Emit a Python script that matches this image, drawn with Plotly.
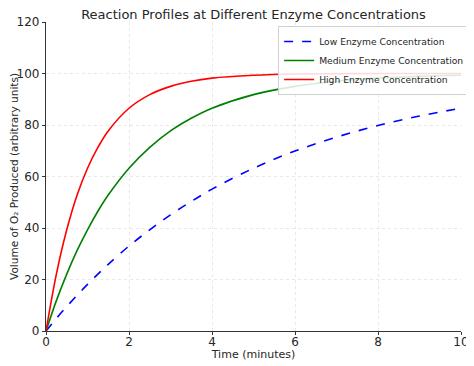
import plotly.graph_objects as go

time_min = [0, 0.25, 0.5, 0.75, 1, 1.25, 1.5, 2, 2.5, 3, 3.5, 4, 5, 6, 7, 8, 9, 10]
low = [0, 4.9, 9.5, 13.9, 18.1, 22.1, 25.9, 33.0, 39.3, 45.1, 50.3, 55.1, 63.2, 69.9, 75.3, 79.8, 83.5, 86.5]
medium = [0, 11.8, 22.1, 31.3, 39.3, 46.5, 52.8, 63.2, 71.3, 77.7, 82.6, 86.5, 91.8, 95.0, 97.0, 98.2, 98.9, 99.3]
high = [0, 22.1, 39.3, 52.8, 63.2, 71.3, 77.7, 86.5, 91.8, 95.0, 97.0, 98.2, 99.3, 99.8, 99.9, 100, 100, 100]

x_ticks = [0, 2, 4, 6, 8, 10]
y_ticks = [0, 20, 40, 60, 80, 100, 120]

fig = go.Figure()
fig.add_trace(go.Scatter(x=time_min, y=low, mode="lines", name="Low Enzyme Concentration",
                         line=dict(color="#0000ff", width=1.6, dash="dash", shape="spline")))
fig.add_trace(go.Scatter(x=time_min, y=medium, mode="lines", name="Medium Enzyme Concentration",
                         line=dict(color="#008000", width=1.6, shape="spline")))
fig.add_trace(go.Scatter(x=time_min, y=high, mode="lines", name="High Enzyme Concentration",
                         line=dict(color="#ff0000", width=1.6, shape="spline")))

font_family = "DejaVu Sans"
fig.update_layout(
    width=466, height=358,
    margin=dict(l=38, r=13, t=14, b=35, autoexpand=False),
    paper_bgcolor="white", plot_bgcolor="white",
    font=dict(family=font_family, color="#262626", size=12),
    title=dict(text="Reaction Profiles at Different Enzyme Concentrations",
               x=0.5, xref="paper", xanchor="center", y=0.981, yanchor="middle",
               font=dict(size=13, color="#262626")),
    legend=dict(x=1.022, y=0.987, xanchor="right", yanchor="top",
                bgcolor="rgba(255,255,255,0.85)", bordercolor="#d0d0d0", borderwidth=1,
                font=dict(size=9.2), tracegroupgap=0, itemwidth=30),
    showlegend=True,
)
fig.update_xaxes(range=[0, 10], tickvals=x_ticks, showgrid=True, automargin=False,
                 gridcolor="#e8e8e8", griddash="dot", gridwidth=1,
                 showline=True, linecolor="#333333", linewidth=1.2,
                 ticks="outside", ticklen=3, tickcolor="#333333",
                 ticklabelstandoff=-4,
                 zeroline=False, tickfont=dict(size=12),
                 title=dict(text="Time (minutes)", font=dict(size=11), standoff=2))
fig.update_yaxes(range=[0, 120], tickvals=y_ticks, showgrid=True, automargin=False,
                 gridcolor="#e8e8e8", griddash="dot", gridwidth=1,
                 showline=True, linecolor="#333333", linewidth=1.2,
                 ticks="outside", ticklen=3, tickcolor="#333333",
                 zeroline=False, tickfont=dict(size=12),
                 title=dict(text="Volume of O₂ Produced (arbitrary units)", font=dict(size=10.5), standoff=2))

fig.write_html("out.html")
